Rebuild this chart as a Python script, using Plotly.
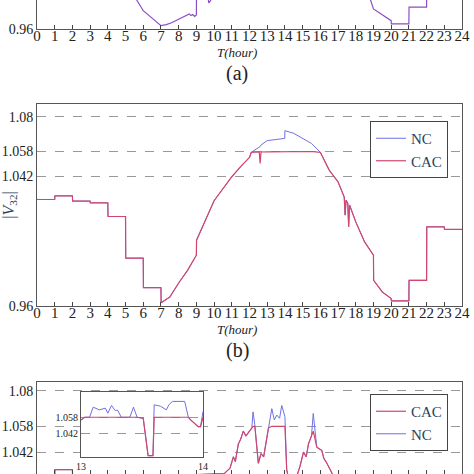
import plotly.graph_objects as go

hours = list(range(25))

# panel (a): partial, only the bottom visible
a_t = [5, 6, 7, 7.3, 7.6, 7.9, 8.1, 8.3, 8.5, 8.6, 8.7, 8.8, 8.9, 9, 9.01, 9.6, 9.7, 9.8, 10,
       18.5, 19, 19.3, 19.5, 19.8, 20, 20.01, 21, 21.01, 22, 22.01, 24]
a_v = [0.99, 0.9716, 0.9621, 0.9628, 0.9640, 0.9655, 0.9668, 0.9675, 0.9690, 0.9695, 0.9685, 0.9692, 0.9680, 0.9689,
       0.99, 0.985, 0.9765, 0.978, 0.99,
       0.99, 0.9727, 0.9705, 0.9690, 0.9668, 0.9653, 0.9632, 0.9632, 0.9739, 0.9739, 1.0, 1.0]

# panel (b)
b_t = [0, 1, 1.01, 2, 2.01, 3, 3.01, 4, 4.01, 5, 5.01, 6, 6.01, 7, 7.01, 7.5, 8, 8.5, 9, 9.01, 10, 11, 11.5, 12,
       12.1, 12.5, 12.55, 12.6, 12.65, 13, 13.99, 14, 14.5, 15, 15.5, 16,
       16.5, 17, 17.35, 17.4, 17.45, 17.55, 17.6, 17.65, 18, 18.5, 19, 19.01, 19.5, 20,
       20.01, 21, 21.01, 22, 22.01, 23, 23.01, 24]
cac_b = [1.0275, 1.0275, 1.0298, 1.0298, 1.0265, 1.0265, 1.0254, 1.0254, 1.0167, 1.0167, 0.9903, 0.9903,
         0.9716, 0.9716, 0.9620, 0.9657, 0.9746, 0.9826, 0.9922, 1.0017, 1.0267, 1.0419, 1.0483, 1.0542,
         1.0574, 1.0576, 1.0576, 1.0504, 1.0576, 1.0577, 1.0578, 1.0578, 1.0579, 1.0579, 1.0579, 1.0574,
         1.0461, 1.0387, 1.0290, 1.0176, 1.0270, 1.0250, 1.0102, 1.0240, 1.0133, 1.0006, 0.9922, 0.9763,
         0.9689, 0.9647, 0.9632, 0.9632, 0.9763, 0.9763, 1.0102, 1.0102, 1.0085, 1.0085]
nc_b = [1.0275, 1.0275, 1.0298, 1.0298, 1.0265, 1.0265, 1.0254, 1.0254, 1.0167, 1.0167, 0.9903, 0.9903,
        0.9716, 0.9716, 0.9620, 0.9657, 0.9746, 0.9826, 0.9922, 1.0017, 1.0267, 1.0419, 1.0483, 1.0542,
        1.0574, 1.0600, 1.0605, 1.0610, 1.0620, 1.0648, 1.0662, 1.0711, 1.0694, 1.0662, 1.0630, 1.0574,
        1.0461, 1.0387, 1.0290, 1.0176, 1.0270, 1.0250, 1.0102, 1.0240, 1.0133, 1.0006, 0.9922, 0.9763,
        0.9689, 0.9647, 0.9632, 0.9632, 0.9763, 0.9763, 1.0102, 1.0102, 1.0085, 1.0085]

# panel (c): partial, only the top visible
c_t = [0, 1, 1.01, 2, 2.01, 10.58, 10.9, 11.09, 11.2, 11.37, 11.5, 11.65, 11.8, 11.94, 12.13, 12.2, 12.3, 12.5,
       12.65, 12.8, 13.07, 13.26, 13.4, 13.54, 13.7, 13.82, 14.0, 14.1, 14.3, 14.67, 14.85, 15.05, 15.2,
       15.33, 15.5, 15.6, 15.8, 16.08, 16.2, 16.37, 16.74, 17]
cac_c = [1.026, 1.026, 1.031, 1.031, 1.025, 1.0286, 1.032, 1.039, 1.036, 1.047, 1.050, 1.055, 1.052, 1.054,
         1.057, 1.058, 1.058, 1.035, 1.041, 1.039, 1.057, 1.058, 1.058, 1.058, 1.058, 1.058, 1.058, 1.031,
         1.021, 1.027, 1.033, 1.042, 1.039, 1.047, 1.052, 1.055, 1.045, 1.043, 1.038, 1.035, 1.027, 1.02]
nc_c = [1.026, 1.026, 1.031, 1.031, 1.025, 1.0286, 1.032, 1.039, 1.036, 1.047, 1.050, 1.055, 1.052, 1.054,
        1.057, 1.067, 1.059, 1.035, 1.041, 1.039, 1.057, 1.069, 1.062, 1.065, 1.063, 1.071, 1.064, 1.031,
        1.021, 1.027, 1.033, 1.042, 1.039, 1.047, 1.052, 1.066, 1.045, 1.043, 1.038, 1.035, 1.027, 1.02]

# inset 13-14 h
i_t = [13.0, 13.03, 13.07, 13.1, 13.15, 13.2, 13.22, 13.25, 13.28, 13.3, 13.33, 13.4, 13.43, 13.46, 13.51,
       13.55, 13.59, 13.6, 13.65, 13.7, 13.72, 13.75, 13.85, 13.88, 13.9, 13.96, 13.98, 14.0]
i_cac = [1.0553, 1.058, 1.058, 1.058, 1.058, 1.058, 1.058, 1.058, 1.058, 1.058, 1.058, 1.058, 1.058, 1.058,
         1.057, 1.020, 1.020, 1.058, 1.058, 1.058, 1.058, 1.058, 1.058, 1.058, 1.0553, 1.0487, 1.0487, 1.058]
i_nc = [1.0553, 1.058, 1.058, 1.068, 1.0653, 1.067, 1.062, 1.0697, 1.0647, 1.065, 1.058, 1.058, 1.068, 1.058,
        1.057, 1.020, 1.020, 1.0703, 1.069, 1.0653, 1.0703, 1.0737, 1.0737, 1.058, 1.0553, 1.0487, 1.0487, 1.0637]

RED = "#d2466e"
BLUE = "#7070e6"
FONT = "Liberation Serif"

fig = go.Figure()
fig.add_trace(go.Scatter(x=a_t, y=a_v, mode="lines", line=dict(color="#8a4fc4", width=1.2),
                         showlegend=False, xaxis="x", yaxis="y"))
fig.add_trace(go.Scatter(x=b_t, y=nc_b, mode="lines", name="NC", line=dict(color=BLUE, width=1),
                         xaxis="x2", yaxis="y2", legend="legend"))
fig.add_trace(go.Scatter(x=b_t, y=cac_b, mode="lines", name="CAC", line=dict(color=RED, width=1.2),
                         xaxis="x2", yaxis="y2", legend="legend"))
fig.add_trace(go.Scatter(x=c_t, y=nc_c, mode="lines", name="NC", line=dict(color=BLUE, width=1),
                         xaxis="x3", yaxis="y3", legend="legend2"))
fig.add_trace(go.Scatter(x=c_t, y=cac_c, mode="lines", name="CAC", line=dict(color=RED, width=1.2),
                         xaxis="x3", yaxis="y3", legend="legend2"))
fig.add_trace(go.Scatter(x=i_t, y=i_nc, mode="lines", line=dict(color=BLUE, width=1),
                         showlegend=False, xaxis="x4", yaxis="y4"))
fig.add_trace(go.Scatter(x=i_t, y=i_cac, mode="lines", line=dict(color=RED, width=1.2),
                         showlegend=False, xaxis="x4", yaxis="y4"))

xd = [37 / 474, 462 / 474]
ax_common = dict(showline=True, linecolor="#555", mirror=True, linewidth=1, zeroline=False, automargin=False,
                 tickfont=dict(family=FONT, size=14, color="#222"))
xcommon = dict(ax_common, range=[0, 24], tickvals=hours, ticks="inside", ticklen=4, showgrid=False,
               ticklabelstandoff=-7, tickfont=dict(family=FONT, size=15, color="#222"))
grid = dict(showgrid=True, gridcolor="#999", griddash="dash", gridwidth=1)

fig.update_layout(
    width=474, height=474, margin=dict(l=0, r=0, t=0, b=0, autoexpand=False),
    plot_bgcolor="white", paper_bgcolor="white",
    xaxis=dict(xcommon, domain=xd, anchor="y"),
    yaxis=dict(ax_common, domain=[1 - 29 / 474, 1], range=[0.96, 0.9784], tickvals=[0.96],
               ticktext=["0.96"], showgrid=False, anchor="x"),
    xaxis2=dict(xcommon, domain=xd, anchor="y2"),
    yaxis2=dict(ax_common, **grid, domain=[1 - 306 / 474, 1 - 104 / 474], range=[0.96, 1.088],
                tickvals=[0.96, 1.042, 1.058, 1.08], ticktext=["0.96", "1.042", "1.058", "1.08"], anchor="x2",
                title=dict(text="|<i>V</i><sub>32</sub>|", font=dict(family=FONT, size=16), standoff=2)),
    xaxis3=dict(xcommon, domain=xd, anchor="y3", showticklabels=False),
    yaxis3=dict(ax_common, **grid, domain=[0, 1 - 382 / 474], range=[1.0283, 1.0856],
                tickvals=[1.042, 1.058, 1.08], ticktext=["1.042", "1.058", "1.08"], anchor="x3"),
    xaxis4=dict(ax_common, domain=[81 / 474, 203 / 474], range=[13, 14], tickvals=[13, 14],
                ticks="", showgrid=False, anchor="y4", tickfont=dict(family=FONT, size=10, color="#222")),
    yaxis4=dict(ax_common, **grid, domain=[1 - 457 / 474, 1 - 392 / 474], range=[1.0187, 1.083],
                tickvals=[1.042, 1.058], ticktext=["1.042", "1.058"], anchor="x4",
                tickfont=dict(family=FONT, size=10, color="#222")),
    legend=dict(x=448 / 474, y=1 - 121 / 474, xanchor="right", yanchor="top", bgcolor="white",
                bordercolor="#444", borderwidth=1, font=dict(family=FONT, size=15), tracegroupgap=0,
                itemwidth=30),
    legend2=dict(x=448 / 474, y=1 - 394 / 474, xanchor="right", yanchor="top", bgcolor="white",
                 bordercolor="#444", borderwidth=1, font=dict(family=FONT, size=15), traceorder="reversed",
                 itemwidth=30),
)

for txt, ypix, size, italic in [("T(hour)", 52, 13, True), ("(a)", 73, 20, False),
                                ("T(hour)", 329, 13, True), ("(b)", 350, 20, False)]:
    fig.add_annotation(text=f"<i>{txt}</i>" if italic else txt, x=0.5, y=1 - ypix / 474,
                       xref="paper", yref="paper", showarrow=False, yanchor="middle",
                       font=dict(family=FONT, size=size, color="#222"))

fig.write_html("out.html", post_script="document.body.style.margin='0';",
               config={"displayModeBar": False})
